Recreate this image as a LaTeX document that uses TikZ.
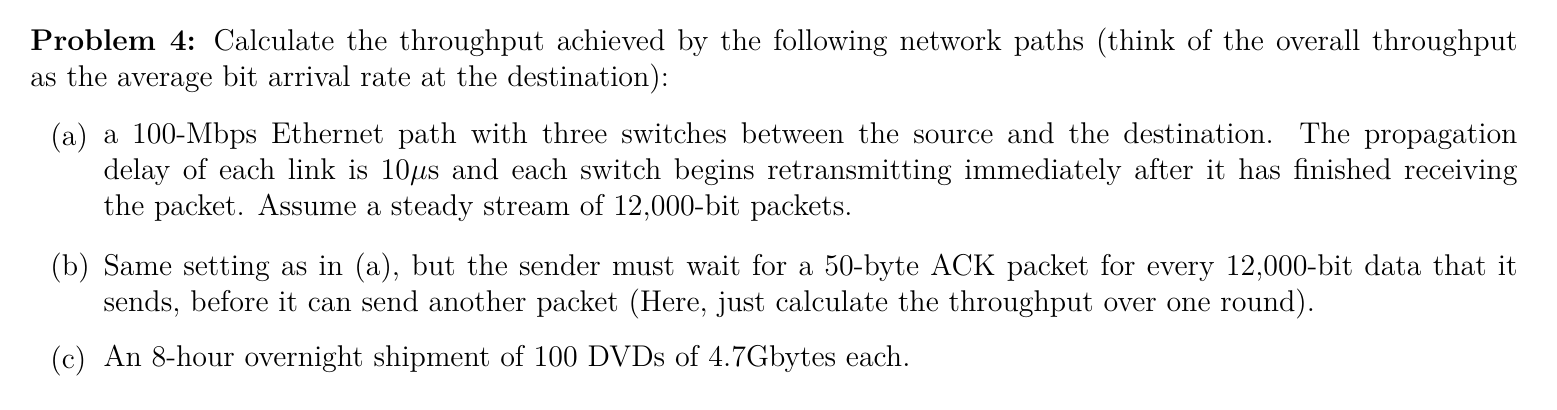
\documentclass[tikz,border=0pt]{standalone}
\begin{document}
\begin{tikzpicture}[x=0.4pt,y=-0.4pt,
  para/.style={anchor=north west,inner sep=0pt,align=justify,font=\fontsize{12}{14.4}\selectfont},
  lbl/.style={anchor=north west,inner sep=0pt,font=\fontsize{12}{14.4}\selectfont}]
\useasboundingbox (0,0) rectangle (1557,409);
\node[para,text width=594.8pt] (p) at (30,27) {\textbf{Problem 4:} Calculate the throughput achieved by the following network paths (think of the overall throughput\linebreak as the average bit arrival rate at the destination):};
\node[lbl] (la) at (50,122) {(a)};
\node[para,text width=565.6pt] (a) at (103,122) {a 100-Mbps Ethernet path with three switches between the source and the destination. The propagation\linebreak delay of each link is 10$\mu$s and each switch begins retransmitting immediately after it has finished receiving\linebreak the packet. Assume a steady stream of 12,000-bit packets.};
\node[lbl] (lb) at (50,252) {(b)};
\node[para,text width=565.6pt] (b) at (103,252) {Same setting as in (a), but the sender must wait for a 50-byte ACK packet for every 12,000-bit data that it\linebreak sends, before it can send another packet (Here, just calculate the throughput over one round).};
\node[lbl] (lc) at (50,345) {(c)};
\node[para,text width=565.6pt] (c) at (103,345) {An 8-hour overnight shipment of 100 DVDs of 4.7Gbytes each.};
\end{tikzpicture}
\end{document}
